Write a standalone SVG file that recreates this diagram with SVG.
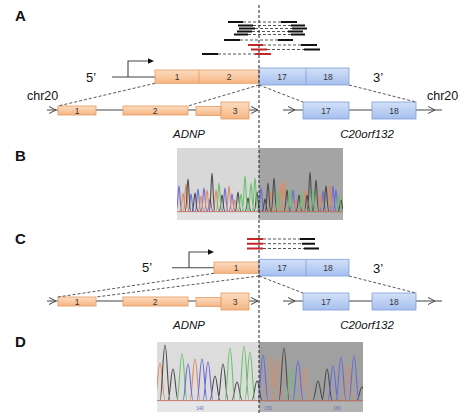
<svg xmlns="http://www.w3.org/2000/svg" width="474" height="420" viewBox="0 0 474 420">
<defs>
<linearGradient id="gO" x1="0" y1="0" x2="0" y2="1"><stop offset="0" stop-color="#fddcc0"/><stop offset="1" stop-color="#f5b684"/></linearGradient>
<linearGradient id="gB" x1="0" y1="0" x2="0" y2="1"><stop offset="0" stop-color="#d3e1f8"/><stop offset="1" stop-color="#a5bfee"/></linearGradient>
<clipPath id="cB"><rect x="177" y="148" width="166" height="72"/></clipPath>
<clipPath id="cD"><rect x="157" y="342" width="206" height="70"/></clipPath>
</defs>
<style>
.o{fill:url(#gO);stroke:#e39a62;stroke-width:0.8}
.b{fill:url(#gB);stroke:#7f9ed8;stroke-width:0.8}
.en{font-family:"Liberation Sans",Arial,sans-serif;font-size:8.5px;fill:#333;text-anchor:middle}
.lab{font-family:"Liberation Sans",Arial,sans-serif;font-size:15px;font-weight:bold;fill:#111}
.t{font-family:"Liberation Sans",Arial,sans-serif;font-size:13px;fill:#111}
.gene{font-family:"Liberation Sans",Arial,sans-serif;font-size:11.5px;font-style:italic;fill:#111;text-anchor:middle}
.ln{stroke:#444;stroke-width:1.1;fill:none}
.chev{stroke:#444;stroke-width:1;fill:none}
.dash{stroke:#444;stroke-width:0.9;stroke-dasharray:3 2;fill:none}
.rk{stroke:#111;stroke-width:2}
.rr{stroke:#c4262c;stroke-width:2}
.pk{fill:none;stroke-width:1.1}
</style>
<rect width="474" height="420" fill="#fff"/>

<!-- panel labels -->
<text class="lab" x="15" y="21">A</text>
<text class="lab" x="15" y="161">B</text>
<text class="lab" x="15" y="244">C</text>
<text class="lab" x="15" y="347">D</text>

<!-- Panel A reads -->
<g id="A-reads">
<g class="dash">
<path d="M243 22H281M253 25.5H291M255 28.5H292M252 31.5H288M248 34.5H291M240 40H278M263 45H301M267 49.5H304M218 54H255"/>
</g>
<path class="rk" d="M228 22H243M281 22H297M238 25.5H253M291 25.5H305M239 28.5H255M292 28.5H307M237 31.5H252M288 31.5H303M234 34.5H248M291 34.5H305M224 40H240M278 40H293M301 45H317M304 49.5H320M202 54H218"/>
<path class="rr" d="M248 45H263M251 49.5H267M255 54H271"/>
</g>

<!-- Panel A fusion transcript -->
<g id="A-fusion">
<path class="ln" d="M112 77H155"/>
<path class="ln" d="M128 77V61H149"/>
<path d="M148 58.2L154 61L148 63.8Z" fill="#111"/>
<rect class="o" x="155" y="70" width="104" height="13.3"/>
<line x1="199" y1="70" x2="199" y2="83.3" stroke="#e39a62" stroke-width="0.8"/>
<rect class="b" x="259" y="68" width="90" height="17"/>
<line x1="306" y1="68" x2="306" y2="85" stroke="#7f9ed8" stroke-width="0.8"/>
<text class="en" x="177" y="79.5">1</text>
<text class="en" x="229" y="79.5">2</text>
<text class="en" x="282" y="79.5">17</text>
<text class="en" x="328" y="79.5">18</text>
<text class="t" x="86" y="82">5’</text>
<text class="t" x="373" y="82">3’</text>
</g>

<!-- Panel A genomic -->
<g id="A-ADNP">
<text class="t" x="27" y="100" style="font-size:12.5px">chr20</text>
<path class="ln" d="M47 110H258"/>
<path class="chev" d="M49 106.5L56 110L49 113.5M251 106.5L258 110L251 113.5"/>
<rect class="o" x="58" y="106" width="38" height="9"/>
<rect class="o" x="123" y="106" width="65" height="9"/>
<rect class="o" x="196" y="106.5" width="25" height="9"/>
<rect class="o" x="221" y="102" width="28" height="17"/>
<text class="en" x="77" y="113.5">1</text>
<text class="en" x="155" y="113.5">2</text>
<text class="en" x="235" y="113.5">3</text>
<text class="gene" x="189" y="137.5">ADNP</text>
</g>
<g id="A-C20orf132">
<path class="ln" d="M283 110H442"/>
<path class="chev" d="M288 106.5L295 110L288 113.5M428 106.5L435 110L428 113.5"/>
<rect class="b" x="303" y="102" width="46" height="17"/>
<rect class="b" x="372" y="102" width="44" height="17"/>
<text class="en" x="326" y="113.5">17</text>
<text class="en" x="394" y="113.5">18</text>
<text class="t" x="427" y="100" style="font-size:12.5px">chr20</text>
<text class="gene" x="367" y="137.5">C20orf132</text>
</g>

<!-- Panel C reads -->
<g id="C-reads">
<path class="dash" d="M263 239H300M263 243.7H302M263 248.5H304"/>
<path class="rr" d="M247 239H263M247 243.7H263M247 248.5H263"/>
<path class="rk" d="M300 239H315M302 243.7H315M304 248.5H319"/>
</g>

<!-- Panel C fusion transcript -->
<g id="C-fusion">
<path class="ln" d="M172 267.7H214"/>
<path class="ln" d="M189 267.7V252H209"/>
<path d="M208 249.2L214 252L208 254.8Z" fill="#111"/>
<rect class="o" x="214" y="262" width="45" height="11.3"/>
<rect class="b" x="259" y="259.3" width="90" height="16.7"/>
<line x1="306" y1="259.3" x2="306" y2="276" stroke="#7f9ed8" stroke-width="0.8"/>
<text class="en" x="236" y="270.5">1</text>
<text class="en" x="282" y="270.5">17</text>
<text class="en" x="328" y="270.5">18</text>
<text class="t" x="142" y="272">5’</text>
<text class="t" x="373" y="273">3’</text>
</g>

<!-- Panel C genomic -->
<g id="C-ADNP">
<path class="ln" d="M47 301H258"/>
<path class="chev" d="M49 297.5L56 301L49 304.5M251 297.5L258 301L251 304.5"/>
<rect class="o" x="58" y="297" width="38" height="9"/>
<rect class="o" x="123" y="297" width="65" height="9"/>
<rect class="o" x="196" y="297.5" width="25" height="9"/>
<rect class="o" x="221" y="293" width="28" height="17"/>
<text class="en" x="77" y="304.5">1</text>
<text class="en" x="155" y="304.5">2</text>
<text class="en" x="235" y="304.5">3</text>
<text class="gene" x="189" y="329">ADNP</text>
</g>
<g id="C-C20orf132">
<path class="ln" d="M283 301H442"/>
<path class="chev" d="M288 297.5L295 301L288 304.5M428 297.5L435 301L428 304.5"/>
<rect class="b" x="303" y="293" width="46" height="17"/>
<rect class="b" x="372" y="293" width="44" height="17"/>
<text class="en" x="326" y="304.5">17</text>
<text class="en" x="394" y="304.5">18</text>
<text class="gene" x="367" y="329">C20orf132</text>
</g>

<!-- connectors -->
<g id="connectors" class="dash">
<path d="M155 83.3L58 106M259 85L188 106M259 85L303 102M349 85L416 102"/>
<path d="M214 273.3L58 297M259 276L96 297M259 276L303 293M349 276L416 293"/>
</g>

<!-- Panel B chromatogram -->
<g id="chromB" clip-path="url(#cB)">
<rect x="177" y="148" width="82" height="72" fill="#d8d8d8"/>
<rect x="259" y="148" width="84" height="72" fill="#a4a4a4"/>
<rect x="177" y="213" width="82" height="7" fill="#e2e2e2"/>
<rect x="259" y="213" width="84" height="7" fill="#b0b0b0"/>
<line x1="177" y1="211.5" x2="343" y2="211.5" stroke="#c8604a" stroke-width="0.7"/>
<path class="pk" stroke="#6a6ad6" d="M176 211C178 211 178 186 179 186S180 211 182 211M188 211C190 211 190 194 191 194S192 211 194 211M195 211C197 211 197 189 198 189S199 211 201 211M201 211C203 211 203 188 204 188S205 211 207 211M207 211C209 211 209 199 210 199S211 211 213 211M222 211C224 211 224 188 225 188S226 211 228 211M229 211C231 211 231 194 232 194S233 211 235 211M258 211C260 211 260 188 261 188S262 211 264 211M290 211C292 211 292 190 293 190S294 211 296 211M320 211C322 211 322 191 323 191S324 211 326 211M330 211C332 211 332 186 333 186S334 211 336 211M333 211C335 211 335 190 336 190S337 211 339 211"/>
<path class="pk" stroke="#e08a60" d="M180 211C182 211 182 193 183 193S184 211 186 211M183 211C185 211 185 184 186 184S187 211 189 211M198 211C200 211 200 196 201 196S202 211 204 211M204 211C206 211 206 190 207 190S208 211 210 211M213 211C215 211 215 190 216 190S217 211 219 211M226 211C228 211 228 186 229 186S230 211 232 211M232 211C234 211 234 200 235 200S236 211 238 211M268 211C270 211 270 192 271 192S272 211 274 211M278 211C280 211 280 184 281 184S282 211 284 211M281 211C283 211 283 181 284 181S285 211 287 211M293 211C295 211 295 200 296 200S297 211 299 211M302 211C304 211 304 190 305 190S306 211 308 211M317 211C319 211 319 194 320 194S321 211 323 211M327 211C329 211 329 185 330 185S331 211 333 211"/>
<path class="pk" stroke="#4a4a4a" d="M185 211C187 211 187 179 188 179S189 211 191 211M192 211C194 211 194 193 195 193S196 211 198 211M209 211C211 211 211 173 212 173S213 211 215 211M219 211C221 211 221 195 222 195S223 211 225 211M235 211C237 211 237 192 238 192S239 211 241 211M245 211C247 211 247 198 248 198S249 211 251 211M254 211C256 211 256 192 257 192S258 211 260 211M262 211C264 211 264 199 265 199S266 211 268 211M265 211C267 211 267 183 268 183S269 211 271 211M271 211C273 211 273 178 274 178S275 211 277 211M284 211C286 211 286 190 287 190S288 211 290 211M296 211C298 211 298 195 299 195S300 211 302 211M304 211C306 211 306 195 307 195S308 211 310 211M307 211C309 211 309 172 310 172S311 211 313 211M313 211C315 211 315 180 316 180S317 211 319 211M323 211C325 211 325 186 326 186S327 211 329 211M338 211C340 211 340 200 341 200S342 211 344 211"/>
<path class="pk" stroke="#6cc06c" d="M216 211C218 211 218 183 219 183S220 211 222 211M238 211C240 211 240 194 241 194S242 211 244 211M242 211C244 211 244 176 245 176S246 211 248 211M248 211C250 211 250 183 251 183S252 211 254 211M252 211C254 211 254 178 255 178S256 211 258 211M275 211C277 211 277 191 278 191S279 211 281 211M287 211C289 211 289 190 290 190S291 211 293 211M299 211C301 211 301 193 302 193S303 211 305 211M310 211C312 211 312 190 313 190S314 211 316 211M336 211C338 211 338 195 339 195S340 211 342 211"/>
</g>

<!-- Panel D chromatogram -->
<g id="chromD" clip-path="url(#cD)">
<rect x="157" y="342" width="102" height="70" fill="#dcdcdc"/>
<rect x="259" y="342" width="104" height="70" fill="#a0a0a0"/>
<rect x="157" y="402" width="102" height="10" fill="#e6e6e6"/>
<rect x="259" y="402" width="104" height="10" fill="#b2b2b2"/>
<line x1="157" y1="400.5" x2="363" y2="400.5" stroke="#c8604a" stroke-width="0.7"/>
<path class="pk" stroke="#e08a60" d="M155 400C157 400 158 363 160 363S163 400 165 400M190 400C192 400 193 359 195 359S198 400 200 400M266 400C268 400 269 358 271 358S274 400 276 400M273 400C275 400 276 358 278 358S281 400 283 400M300 400C302 400 303 368 305 368S308 400 310 400M343 400C345 400 346 366 348 366S351 400 353 400"/>
<path class="pk" stroke="#4a4a4a" d="M160 400C162 400 163 345 165 345S168 400 170 400M168 400C170 400 171 369 173 369S176 400 178 400M210 400C212 400 213 376 215 376S218 400 220 400M218 400C220 400 221 364 223 364S226 400 228 400M232 400C234 400 235 382 237 382S240 400 242 400M252 400C254 400 255 381 257 381S260 400 262 400M279 400C281 400 282 348 284 348S287 400 289 400M313 400C315 400 316 381 318 381S321 400 323 400M322 400C324 400 325 369 327 369S330 400 332 400M357 400C359 400 360 387 362 387S365 400 367 400"/>
<path class="pk" stroke="#6cc06c" d="M177 400C179 400 180 354 182 354S185 400 187 400M225 400C227 400 228 348 230 348S233 400 235 400M239 400C241 400 242 346 244 346S247 400 249 400M245 400C247 400 248 352 250 352S253 400 255 400M286 400C288 400 289 368 291 368S294 400 296 400"/>
<path class="pk" stroke="#6a6ad6" d="M183 400C185 400 186 364 188 364S191 400 193 400M197 400C199 400 200 359 202 359S205 400 207 400M203 400C205 400 206 362 208 362S211 400 213 400M258 400C260 400 261 355 263 355S266 400 268 400M293 400C295 400 296 361 298 361S301 400 303 400M328 400C330 400 331 366 333 366S336 400 338 400M336 400C338 400 339 357 341 357S344 400 346 400M349 400C351 400 352 356 354 356S357 400 359 400"/>
<text x="200" y="410" font-family="Liberation Sans, Arial, sans-serif" font-size="4.5" fill="#5a6fb0" text-anchor="middle">140</text>
<text x="268" y="410" font-family="Liberation Sans, Arial, sans-serif" font-size="4.5" fill="#5a6fb0" text-anchor="middle">150</text>
<text x="337" y="410" font-family="Liberation Sans, Arial, sans-serif" font-size="4.5" fill="#5a6fb0" text-anchor="middle">160</text>
</g>

<!-- breakpoint line -->
<line id="breakpoint" x1="259" y1="5" x2="259" y2="414" stroke="#222" stroke-width="1" stroke-dasharray="3 2"/>
</svg>
